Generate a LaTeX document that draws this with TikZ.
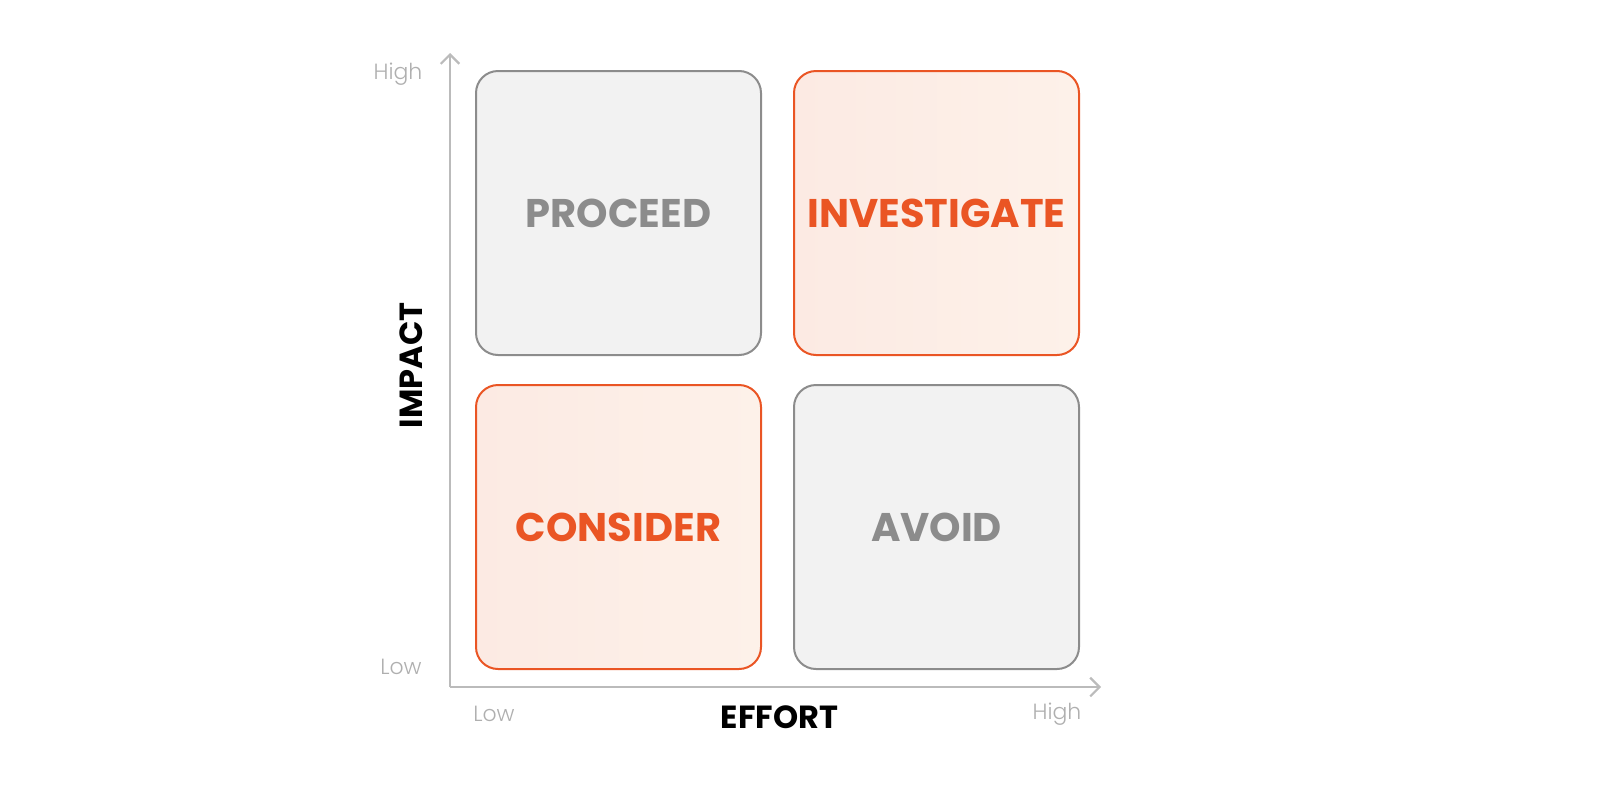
\documentclass[tikz,border=0pt]{standalone}
\usepackage{fontspec}
\setmainfont{Poppins}
\newfontfamily\boldf{Poppins}[UprightFont=* Bold]
\newfontfamily\lightf{Poppins}[UprightFont=* Light]
\usetikzlibrary{arrows.meta}
\definecolor{axisgray}{HTML}{BBBBBB}
\definecolor{labgray}{HTML}{AFAFAF}
\definecolor{boxgray}{HTML}{8C8C8C}
\definecolor{fillgray}{HTML}{F2F2F2}
\definecolor{orng}{HTML}{EA5524}
\definecolor{peachL}{HTML}{FCEAE3}
\definecolor{peachR}{HTML}{FDF1E9}
\tikzset{
  quad/.style={rounded corners=16.5pt, line width=1.5pt, minimum width=213.75pt, minimum height=213pt, inner sep=0pt},
  grayq/.style={quad, draw=boxgray, fill=fillgray, text=boxgray},
  orq/.style={quad, draw=orng, left color=peachL, right color=peachR, text=orng},
  qtext/.style={font=\boldf\fontsize{30}{30}\selectfont},
  axis/.style={draw=axisgray, line width=1.6pt, -{Straight Barb[length=7pt,width=14pt,line width=1.6pt]}},
  tick/.style={text=labgray, font=\lightf\fontsize{16.5}{16.5}\selectfont, inner sep=0pt},
  axtitle/.style={font=\boldf\fontsize{24}{24}\selectfont, text=black, inner sep=0pt}
}
\begin{document}
\begin{tikzpicture}[x=0.75pt,y=-0.75pt]
\useasboundingbox (0,0) rectangle (1600,800);
\node[grayq, qtext] (proceed) at (618.5,213) {PROCEED};
\node[orq, qtext] (investigate) at (936.5,213) {INVESTIGATE};
\node[orq, qtext] (consider) at (618.5,527) {CONSIDER};
\node[grayq, qtext] (avoid) at (936.5,527) {AVOID};
\coordinate (origin) at (450,687);
\coordinate (ytip) at (450,53);
\coordinate (xtip) at (1101,687);
\draw[axis] (origin) -- (ytip);
\draw[axis] (origin) -- (xtip);
\node[tick] (yhigh) at (398,74) {High};
\node[tick] (ylow) at (401,667) {Low};
\node[tick] (xlow) at (494,714) {Low};
\node[tick] (xhigh) at (1057,714) {High};
\node[axtitle] (effort) at (779.5,717) {EFFORT};
\node[axtitle, rotate=90] (impact) at (411,365.5) {IMPACT};
\end{tikzpicture}
\end{document}
